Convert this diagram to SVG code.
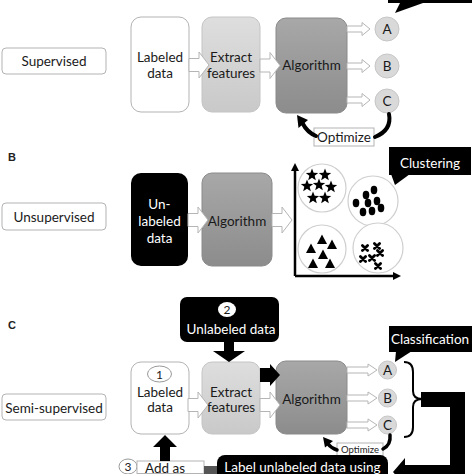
<svg xmlns="http://www.w3.org/2000/svg" width="474" height="474" viewBox="0 0 474 474">
<defs>
<style>
text{font-family:Lato,'Liberation Sans',sans-serif;font-size:13.5px;fill:#1a1a1a}
.mid{text-anchor:middle}
.wt{fill:#fff}
.hd{font-family:'Liberation Sans',Arial,sans-serif;font-weight:bold;font-size:11px;fill:#222}
.lbl{fill:#fff;stroke:#b3b3b3;stroke-width:1}
.ext{fill:url(#gExt);stroke:#c4c4c4;stroke-width:1}
.alg{fill:url(#gAlg);stroke:#8a8a8a;stroke-width:1}
.blk{fill:#000}
.circ{fill:#d9d9d9;stroke:#c6c6c6;stroke-width:1}
.ha{fill:#fff;stroke:#b5b5b5;stroke-width:1}
.cl{fill:#fff;stroke:#cfcfcf;stroke-width:1.2}
.num{fill:#fff;stroke:#999;stroke-width:1}
.crv{fill:none;stroke:#000;stroke-width:4;stroke-linecap:round}
.ax{fill:none;stroke:#000;stroke-width:2.5}
.xx{fill:none;stroke:#000;stroke-width:2.8;stroke-linecap:round}
</style>
<linearGradient id="gExt" x1="0" y1="0" x2="0" y2="1"><stop offset="0" stop-color="#dedede"/><stop offset="1" stop-color="#c9c9c9"/></linearGradient>
<linearGradient id="gAlg" x1="0" y1="0" x2="0" y2="1"><stop offset="0" stop-color="#a8a8a8"/><stop offset="1" stop-color="#8c8c8c"/></linearGradient>
<path id="harrow" d="M0,-6.5 H10 V-13 L20,0 L10,13 V6.5 H0 Z"/>
<path id="sarrowA" d="M0,-3 H15 V-6.5 L23,0 L15,6.5 V3 H0 Z"/>
<path id="sarrowC" d="M0,-3 H21 V-6 L30,0 L21,6 V3 H0 Z"/>
<path id="star" d="M0,-6.5 L1.65,-2.27 L6.18,-2.01 L2.67,0.87 L3.82,5.26 L0,2.8 L-3.82,5.26 L-2.67,0.87 L-6.18,-2.01 L-1.65,-2.27 Z"/>
<path id="tri" d="M0,-5.5 L5,4 L-5,4 Z"/>
<path id="cross" d="M-2.6,-2.6 L2.6,2.6 M2.6,-2.6 L-2.6,2.6"/>
</defs>
<rect x="0" y="0" width="474" height="474" fill="#fff"/>

<!-- Section A -->
<g id="supervised"><rect x="2" y="48" width="104" height="26" rx="4" class="lbl"/><text x="54" y="65.5" class="mid">Supervised</text></g>
<g id="a-labeled"><rect x="131" y="17" width="58" height="95" rx="10" class="lbl"/><text x="160" y="62" class="mid">Labeled</text><text x="160" y="78" class="mid">data</text></g>
<g id="a-extract"><rect x="202" y="17" width="58" height="95" rx="10" class="ext"/><text x="231" y="62" class="mid">Extract</text><text x="231" y="78" class="mid">features</text></g>
<g id="a-algorithm"><rect x="276" y="18" width="71" height="95" rx="10" class="alg"/><text x="311.5" y="70" class="mid">Algorithm</text></g>
<g id="a-outA"><circle cx="387" cy="29" r="12" class="circ"/><text x="387" y="33.5" class="mid">A</text></g>
<g id="a-outB"><circle cx="387" cy="66" r="12" class="circ"/><text x="387" y="70.5" class="mid">B</text></g>
<g id="a-outC"><circle cx="387" cy="101" r="12" class="circ"/><text x="387" y="105.5" class="mid">C</text></g>
<g id="a-optimize"><rect x="314" y="128" width="60" height="18" class="lbl"/><text x="344" y="142" class="mid">Optimize</text></g>
<g id="a-callout"><rect x="388" y="-20" width="84" height="23" class="blk"/><polygon points="400,3 423,3 395,13" class="blk"/></g>

<!-- Section B -->
<text x="8" y="161" class="hd">B</text>
<g id="unsupervised"><rect x="2" y="203" width="104" height="27" rx="4" class="lbl"/><text x="54" y="222" class="mid">Unsupervised</text></g>
<g id="b-unlabeled"><rect x="131" y="173" width="57" height="93" rx="10" class="blk"/><text x="159.5" y="209" class="mid wt">Un-</text><text x="159.5" y="226" class="mid wt">labeled</text><text x="159.5" y="243" class="mid wt">data</text></g>
<g id="b-algorithm"><rect x="202" y="173" width="70" height="93" rx="10" class="alg"/><text x="237" y="226" class="mid">Algorithm</text></g>
<g id="b-plot">
<circle cx="322" cy="188" r="24" class="cl"/>
<circle cx="373" cy="201" r="25" class="cl"/>
<circle cx="322" cy="249" r="24" class="cl"/>
<circle cx="378" cy="248" r="25" class="cl"/>
<path d="M295,276 V169 M295,276 H395" class="ax"/>
<polygon points="295,163 291,171 299,171" class="blk"/>
<polygon points="401,276 393,272 393,280" class="blk"/>
<use href="#star" x="312" y="175"/><use href="#star" x="325" y="175"/>
<use href="#star" x="307" y="186"/><use href="#star" x="319" y="185"/><use href="#star" x="331" y="187"/>
<use href="#star" x="313" y="198"/><use href="#star" x="325" y="198"/>
<ellipse cx="374" cy="190" rx="3.3" ry="4.2"/><ellipse cx="366" cy="195" rx="3.3" ry="4.2"/>
<ellipse cx="356" cy="203" rx="3.3" ry="4.2"/><ellipse cx="368" cy="203" rx="3.3" ry="4.2"/>
<ellipse cx="377" cy="201" rx="3.3" ry="4.2"/><ellipse cx="363" cy="212" rx="3.3" ry="4.2"/>
<ellipse cx="372" cy="211" rx="3.3" ry="4.2"/><ellipse cx="381" cy="208" rx="3.3" ry="4.2"/>
<use href="#tri" x="322" y="240"/><use href="#tri" x="311" y="249"/><use href="#tri" x="332" y="245"/>
<use href="#tri" x="323" y="255"/><use href="#tri" x="313" y="264"/><use href="#tri" x="330" y="264"/>
<use href="#cross" x="365" y="248" class="xx"/><use href="#cross" x="377" y="246" class="xx"/>
<use href="#cross" x="380" y="253" class="xx"/><use href="#cross" x="363" y="259" class="xx"/>
<use href="#cross" x="372" y="258" class="xx"/><use href="#cross" x="378" y="266" class="xx"/>
</g>
<g id="b-callout"><rect x="389" y="147" width="82" height="28" class="blk"/><polygon points="391,174 410,174 395,185" class="blk"/><text x="430" y="168" class="mid wt">Clustering</text></g>

<!-- Section C -->
<text x="8" y="329" class="hd">C</text>
<g id="semisupervised"><rect x="2" y="394" width="104" height="26" rx="4" class="lbl"/><text x="54" y="413" class="mid">Semi-supervised</text></g>
<g id="c-labeled"><rect x="131" y="362" width="58" height="72" rx="10" class="lbl"/><ellipse cx="159.5" cy="374" rx="12" ry="8" class="num"/><text x="159.5" y="378.5" class="mid" style="font-size:12px">1</text><text x="160" y="396.5" class="mid">Labeled</text><text x="160" y="412" class="mid">data</text></g>
<g id="c-unlabeled"><rect x="180" y="297" width="99" height="45" rx="7" class="blk"/><ellipse cx="227" cy="309.5" rx="9" ry="7.5" fill="#fff"/><text x="227" y="314" class="mid" style="font-size:12px">2</text><text x="231" y="334" class="mid wt">Unlabeled data</text></g>
<g id="c-extract"><rect x="202" y="362" width="58" height="72" rx="10" class="ext"/><text x="231" y="396.5" class="mid">Extract</text><text x="231" y="412" class="mid">features</text></g>
<g id="c-algorithm"><rect x="276" y="361" width="71" height="73" rx="10" class="alg"/><text x="311.5" y="404" class="mid">Algorithm</text></g>
<g id="c-outA"><circle cx="387.5" cy="370" r="9" class="circ"/><text x="387.5" y="374.5" class="mid">A</text></g>
<g id="c-outB"><circle cx="387.5" cy="398" r="9" class="circ"/><text x="387.5" y="402.5" class="mid">B</text></g>
<g id="c-outC"><circle cx="387.5" cy="425" r="9" class="circ"/><text x="387.5" y="429.5" class="mid">C</text></g>
<g id="c-optimize"><rect x="337" y="443" width="46" height="13" class="lbl"/><text x="360" y="453" class="mid" style="font-size:9.5px">Optimize</text></g>
<g id="c-callout"><rect x="389" y="326" width="83" height="26" class="blk"/><polygon points="396,351 412,351 395,362" class="blk"/><text x="430" y="344" class="mid wt">Classification</text></g>
<g id="c-addas"><ellipse cx="128" cy="466.5" rx="9" ry="7.5" class="num"/><text x="128" y="471" class="mid" style="font-size:12px">3</text><rect x="137" y="461" width="67" height="12.5" class="lbl"/><text x="145" y="472.5">Add as</text></g>
<g id="c-label-using"><rect x="217" y="455" width="171" height="35" rx="8" class="blk"/><text x="302.5" y="472" class="mid wt">Label unlabeled data using</text></g>

<!-- Connectors -->
<g id="connectors">
<use href="#harrow" x="189" y="65" class="ha"/>
<use href="#harrow" x="260" y="65.5" class="ha"/>
<use href="#sarrowA" x="347" y="29" class="ha"/>
<use href="#sarrowA" x="347" y="66" class="ha"/>
<use href="#sarrowA" x="347" y="100" class="ha"/>
<path d="M389,114 Q392,130 375,137" class="crv"/>
<path d="M316,136 Q307,132 303,124" class="crv"/>
<polygon points="297,115 308,120 298.5,128" class="blk"/>

<use href="#harrow" x="188" y="220" class="ha"/>
<use href="#harrow" x="272" y="220" class="ha"/>

<polygon points="224,342 234,342 234,351 245,351 229,362 213,351 224,351" class="blk"/>
<use href="#harrow" x="188" y="405" class="ha"/>
<use href="#harrow" x="260" y="405" class="ha"/>
<polygon points="260,368 270,368 270,364 280,375 270,386 270,382 260,382" class="blk"/>
<use href="#sarrowC" x="347" y="370" class="ha"/>
<use href="#sarrowC" x="347" y="398" class="ha"/>
<use href="#sarrowC" x="347" y="425" class="ha"/>
<path d="M390,435 Q391,445 383,449" class="crv" style="stroke-width:3.5"/>
<path d="M337,450 Q331,448 328,444" class="crv" style="stroke-width:3.5"/>
<polygon points="323,437 333,441 325,447.5" class="blk"/>
<path d="M404,362 Q413,362 413,372 V391 Q413,399 422,399 Q413,399 413,407 V427 Q413,437 404,437" fill="none" stroke="#000" stroke-width="2"/>
<rect x="421" y="392" width="44" height="15" class="blk"/>
<rect x="450" y="392" width="15" height="88" class="blk"/>
<rect x="404" y="465" width="61" height="15" class="blk"/>
<polygon points="405,458 393,472 405,486" class="blk"/>
<rect x="204" y="466" width="13" height="8" fill="#555"/>
<polygon points="165,435 177,447 170,447 170,461 160,461 160,447 153,447" class="blk"/>
</g>
</svg>
